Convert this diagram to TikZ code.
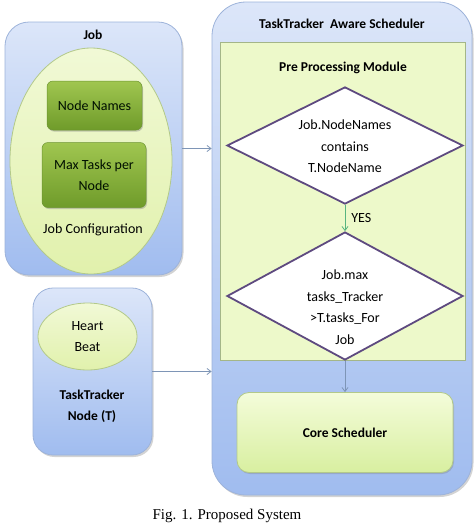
\documentclass[tikz,border=0pt]{standalone}
\usepackage{fontspec}
\setmainfont{Carlito}
\newfontfamily\capfont{Liberation Serif}
\usetikzlibrary{shapes.geometric,shadows,arrows.meta}
\definecolor{bluetop}{HTML}{DCE6F9}
\definecolor{bluebot}{HTML}{A0BCEF}
\definecolor{blueedge}{HTML}{9DB3DA}
\definecolor{paletop}{HTML}{F1F9D6}
\definecolor{palebot}{HTML}{E1F1AC}
\definecolor{palegreenedge}{HTML}{B3C98A}
\definecolor{greentop}{HTML}{A0C650}
\definecolor{greenbot}{HTML}{6F9B2A}
\definecolor{greenedge}{HTML}{6C9431}
\definecolor{prefill}{HTML}{EDF9CA}
\definecolor{preedge}{HTML}{A4B688}
\definecolor{coretop}{HTML}{F4FCDA}
\definecolor{corebot}{HTML}{D8EFA0}
\definecolor{diaedge}{HTML}{5E4A80}
\definecolor{arrowcol}{HTML}{7E95B6}
\tikzset{
  bluebox/.style={draw=blueedge, line width=0.8pt, top color=bluetop, bottom color=bluebot,
    drop shadow={shadow xshift=1.5pt, shadow yshift=-2pt, opacity=0.35}},
  paleellipse/.style={ellipse, draw=palegreenedge, line width=0.8pt, top color=paletop, bottom color=palebot, inner sep=0pt},
  greenbox/.style={draw=greenedge, line width=0.5pt, rounded corners=6pt, top color=greentop, bottom color=greenbot,
    drop shadow={shadow xshift=1pt, shadow yshift=-1.5pt, opacity=0.4}, text=black!80!green!30!black,
    font=\fontsize{14}{17}\selectfont, align=center, inner sep=0pt},
  diabox/.style={diamond, draw=diaedge, line width=1.8pt, fill=white, inner sep=0pt},
  lbl/.style={font=\fontsize{14}{21.5}\selectfont, align=center, inner sep=0pt},
  blbl/.style={font=\bfseries\fontsize{13.5}{21}\selectfont, align=center, inner sep=0pt},
  conn/.style={draw=arrowcol, line width=0.8pt, -{Straight Barb[length=4pt,width=6pt]}},
}
\begin{document}
\begin{tikzpicture}[x=1pt,y=-1pt]
\useasboundingbox (0,0) rectangle (474,523);
% Job box
\node[bluebox, rounded corners=24pt, minimum width=177pt, minimum height=253pt] (job) at (93.5,148.5) {};
\node[blbl] (jobt) at (93,35) {Job};
\node[paleellipse, minimum width=162pt, minimum height=226pt] (jconf) at (91,161) {};
\node[greenbox, minimum width=95pt, minimum height=49pt] (nn) at (94.5,105.5) {Node Names};
\node[greenbox, minimum width=104pt, minimum height=65pt, font=\fontsize{14}{21.5}\selectfont] (mt) at (94,175) {Max Tasks per\\Node};
\node[lbl] (jct) at (93,230) {Job Configuration};
% TaskTracker node
\node[bluebox, rounded corners=20pt, minimum width=119pt, minimum height=167pt] (tt) at (92.5,371.5) {};
\node[paleellipse, minimum width=99pt, minimum height=67pt, lbl] (hb) at (87.5,336.5) {Heart\\Beat};
\node[blbl] (ttt) at (92,406.5) {TaskTracker\\Node (T)};
% Scheduler
\node[bluebox, rounded corners=34pt, minimum width=260pt, minimum height=493pt] (sched) at (342,248.5) {};
\node[blbl] (schedt) at (342,24) {TaskTracker\ \ Aware Scheduler};
\node[draw=preedge, line width=0.8pt, fill=prefill, minimum width=245pt, minimum height=318pt, inner sep=0pt] (pre) at (342.5,201) {};
\node[blbl] (pret) at (343,68) {Pre Processing\ Module};
\node[diabox, minimum width=236pt, minimum height=117pt] (d1) at (345,145.5) {};
\node[lbl] (d1t) at (345,146.5) {Job.NodeNames\\contains\\T.NodeName};
\node[diabox, minimum width=236pt, minimum height=128pt] (d2) at (345,296) {};
\node[lbl] (d2t) at (345,307) {Job.max\\tasks\_Tracker\\{>}T.tasks\_For\\Job};
\node[draw=palegreenedge, line width=0.8pt, rounded corners=12pt, top color=coretop, bottom color=corebot,
  minimum width=216pt, minimum height=80pt,
  drop shadow={shadow xshift=1pt, shadow yshift=-1.5pt, opacity=0.35}, blbl] (core) at (345,432.5) {Core Scheduler};
% connectors
\draw[conn] (job.east) -- (job.east -| sched.west);
\draw[conn] (tt.east) -- (tt.east -| sched.west);
\draw[conn, draw=arrowcol!70!green] (d1.south) -- node[right=6pt, lbl, pos=0.5] (yes) {YES} (d2.north);
\draw[conn] (d2.south) -- (core.north);
% caption
\node[anchor=base, font=\capfont\fontsize{15}{18}\selectfont, inner sep=0pt] (cap) at (227,519) {Fig. 1. Proposed System};
\end{tikzpicture}
\end{document}
